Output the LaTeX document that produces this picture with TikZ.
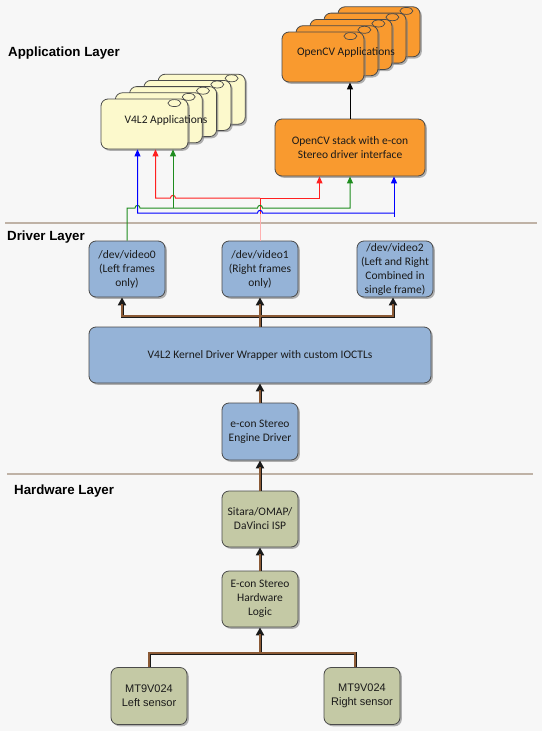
\documentclass[tikz,border=0pt]{standalone}
\usepackage{fontspec}
\setmainfont{Carlito}
\newfontfamily\lblfont{Liberation Sans}
\usetikzlibrary{shadows,arrows.meta}
\definecolor{bg}{HTML}{F7F7F7}
\definecolor{bord}{HTML}{4A4A4A}
\definecolor{txt}{HTML}{1A1A1A}
\definecolor{dblue}{HTML}{95B3D7}
\definecolor{sage}{HTML}{C4C9A5}
\definecolor{yel}{HTML}{FCF9CC}
\definecolor{org}{HTML}{F99A2F}
\definecolor{sepc}{HTML}{BFB2A6}
\definecolor{brn}{HTML}{8B5A36}
\definecolor{gcol}{HTML}{1E8C1E}
\definecolor{rcol}{HTML}{FF2020}
\definecolor{bcol}{HTML}{0000FF}
\definecolor{pnk}{HTML}{FFB0B0}
\newcommand\bxfont{\fontsize{11.5}{14}\selectfont}
\begin{document}
\begin{tikzpicture}[x=1pt,y=-1pt,
  base/.style={rounded corners=7pt, draw=bord, line width=0.8pt, align=center,
    inner sep=1pt, text=txt, font=\bxfont,
    drop shadow={shadow xshift=1.8pt, shadow yshift=-1.8pt, opacity=0.6}},
  dbox/.style={base, fill=dblue, minimum width=76pt, minimum height=56pt},
  hbox/.style={base, fill=sage, minimum width=76pt, minimum height=57pt, font=\lblfont\fontsize{11}{14}\selectfont},
  ybox/.style={base, fill=yel, minimum width=87pt, minimum height=50pt},
  obox/.style={base, fill=org, minimum width=82pt, minimum height=50pt},
  bump/.style={draw=bord, line width=0.7pt},
  lbl/.style={anchor=west, inner sep=0pt, text=black, font=\lblfont\bfseries\fontsize{13.3}{15}\selectfont},
  sepline/.style={draw=sepc, line width=2pt},
  busout/.style={draw=black!90, line width=3pt},
  busin/.style={draw=brn, line width=1.3pt},
  bustip/.style={-{Triangle[length=8pt,width=8pt]}},
  cline/.style={line width=1pt, -{Triangle[length=7pt,width=6pt]}},
  plain/.style={line width=1pt}
]
\useasboundingbox (0,0) rectangle (542,731);
\fill[bg] (0,0) rectangle (542,731);

% layer separators
\draw[sepline] (5,222.5) -- (537,222.5);
\draw[sepline] (7,474) -- (533,474);

% layer labels
\node[lbl] (lapp) at (8,53) {Application Layer};
\node[lbl] (ldrv) at (7,237) {Driver Layer};
\node[lbl] (lhw) at (14,491) {Hardware Layer};

% V4L2 application stack
\foreach \k in {4,3,2,1,0}{
  \node[ybox] (va\k) at ({144.5+14.3*\k},{124-6.2*\k}) {};
  \draw[bump, fill=yel] ([xshift=-14pt,yshift=-4.5pt]va\k.north east) ellipse [x radius=6.5pt, y radius=3.5pt];
}
\node[font=\bxfont, text=txt] (vatext) at (166,120) {V4L2 Applications};

% OpenCV application stack
\foreach \k in {4,3,2,1,0}{
  \node[obox] (oa\k) at ({323+14*\k},{57-6.3*\k}) {};
  \draw[bump, fill=org] ([xshift=-14pt,yshift=-4.5pt]oa\k.north east) ellipse [x radius=6.5pt, y radius=3.5pt];
}
\node[font=\bxfont, text=txt] (oatext) at (346,52) {OpenCV Applications};

% OpenCV stack
\node[base, fill=org, minimum width=150pt, minimum height=57pt] (ocs) at (350,147.5)
  {OpenCV stack with e-con\\Stereo driver interface};

% driver layer
\node[dbox] (v0) at (127,269) {/dev/video0\\(Left frames\\only)};
\node[dbox] (v1) at (260,269) {/dev/video1\\(Right frames\\only)};
\node[dbox] (v2) at (395,269) {/dev/video2\\(Left and Right\\Combined in\\single frame)};
\node[dbox, minimum width=342pt] (wrap) at (260,355) {V4L2 Kernel Driver Wrapper with custom IOCTLs};
\node[dbox, minimum height=57pt] (drv) at (260,431.5) {e-con Stereo\\Engine Driver};

% hardware layer
\node[base, fill=sage, minimum width=76pt, minimum height=56pt] (sit) at (260,519) {Sitara/OMAP/\\DaVinci ISP};
\node[base, fill=sage, minimum width=76pt, minimum height=56pt] (hw) at (260,599) {E-con Stereo\\Hardware\\Logic};
\node[hbox] (ls) at (149,696) {MT9V024\\Left sensor};
\node[hbox] (rs) at (362,696) {MT9V024\\Right sensor};

% black arrow OpenCV stack -> applications
\draw[cline, draw=black] (ocs.north) -- (ocs.north |- oa0.south);

% brown bus connectors
\coordinate (bj) at (260,316);
\coordinate (sj) at (260,653);
\begin{scope}[busout]
  \draw[bustip] (wrap.north) -- (bj) -| ([xshift=-5pt]v0.south);
  \draw[bustip] (bj) -| ([xshift=-2pt]v2.south);
  \draw[bustip] (bj) -- (v1.south);
  \draw[bustip] (drv.north) -- (wrap.south);
  \draw[bustip] (sit.north) -- (drv.south);
  \draw[bustip] (hw.north) -- (sit.south);
  \draw (ls.north) |- (sj);
  \draw ([xshift=-7pt]rs.north) |- (sj);
  \draw[bustip] (sj) -- (hw.south);
\end{scope}
\begin{scope}[busin]
  \draw[shorten >=7pt] (wrap.north) -- (bj) -| ([xshift=-5pt]v0.south);
  \draw[shorten >=7pt] (bj) -| ([xshift=-2pt]v2.south);
  \draw[shorten >=7pt] (bj) -- (v1.south);
  \draw[shorten >=7pt] (drv.north) -- (wrap.south);
  \draw[shorten >=7pt] (sit.north) -- (drv.south);
  \draw[shorten >=7pt] (hw.north) -- (sit.south);
  \draw (ls.north) |- (sj);
  \draw ([xshift=-7pt]rs.north) |- (sj);
  \draw[shorten >=7pt] (sj) -- (hw.south);
\end{scope}

% coloured connectors
\coordinate (rj) at (260,198);
\coordinate (rmid) at (260,214);
\coordinate (rl) at (155.5,198);
\coordinate (rr) at (319.5,198);
\coordinate (gj) at (127,208);
\coordinate (gm) at (173,208);
\coordinate (gr) at (350,208);
\coordinate (bstart) at (394,216.5);
\coordinate (bj2) at (394,213);
\coordinate (bl) at (137.5,213);

% red (from /dev/video1)
\draw[plain, draw=pnk] (v1.north) -- (rmid);
\draw[plain, draw=rcol] (rmid) -- (rj);
\draw[cline, draw=rcol] (rj) -- (175.5,198) .. controls (175.5,194.5) and (170.5,194.5) .. (170.5,198)
  -- (rl) -- (rl |- va0.south);
\draw[cline, draw=rcol] (rj) -- (rr) -- (rr |- ocs.south);

% green (from /dev/video0)
\draw[cline, draw=gcol] (v0.north) -- (gj) -- (135,208) .. controls (135,204.5) and (140,204.5) .. (140,208)
  -- (257.5,208) .. controls (257.5,204.5) and (262.5,204.5) .. (262.5,208)
  -- (gr) -- (gr |- ocs.south);
\draw[cline, draw=gcol] (gm) -- (gm |- va0.south);

% blue (from /dev/video2)
\draw[cline, draw=bcol] (bstart) -- (bstart |- ocs.south);
\draw[cline, draw=bcol] (bj2) -- (262.5,213) .. controls (262.5,209.5) and (257.5,209.5) .. (257.5,213)
  -- (bl) -- (bl |- va0.south);
\end{tikzpicture}
\end{document}
